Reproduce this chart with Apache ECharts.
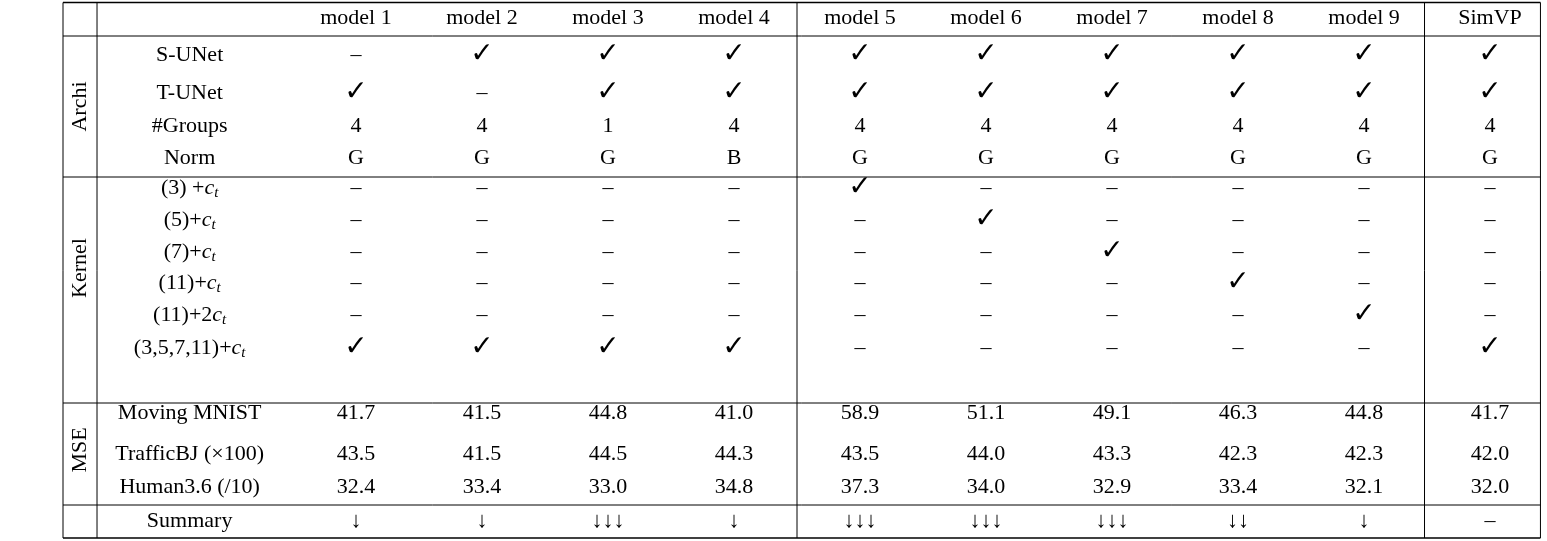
<!DOCTYPE html><html><head><meta charset="utf-8"><script src="https://cdn.jsdelivr.net/npm/echarts@6/dist/echarts.min.js"></script>
<style>html,body{margin:0;background:#fff}#c{width:1547px;height:541px}</style></head><body><div id="c"></div><script>
const models=['model 1','model 2','model 3','model 4','model 5','model 6','model 7','model 8','model 9','SimVP'];
const rowLabels=['S-UNet','T-UNet','#Groups','Norm','(3) +{i|c}{s|t}','(5)+{i|c}{s|t}','(7)+{i|c}{s|t}','(11)+{i|c}{s|t}','(11)+2{i|c}{s|t}','(3,5,7,11)+{i|c}{s|t}','Moving MNIST','TrafficBJ (×100)','Human3.6 (/10)','Summary'];
const C='✓',D='–';
const cells=[
[D,C,C,C,C,C,C,C,C,C],
[C,D,C,C,C,C,C,C,C,C],
['4','4','1','4','4','4','4','4','4','4'],
['G','G','G','B','G','G','G','G','G','G'],
[D,D,D,D,C,D,D,D,D,D],
[D,D,D,D,D,C,D,D,D,D],
[D,D,D,D,D,D,C,D,D,D],
[D,D,D,D,D,D,D,C,D,D],
[D,D,D,D,D,D,D,D,C,D],
[C,C,C,C,D,D,D,D,D,C],
['41.7','41.5','44.8','41.0','58.9','51.1','49.1','46.3','44.8','41.7'],
['43.5','41.5','44.5','44.3','43.5','44.0','43.3','42.3','42.3','42.0'],
['32.4','33.4','33.0','34.8','37.3','34.0','32.9','33.4','32.1','32.0'],
['↓','↓','↓↓↓','↓','↓↓↓','↓↓↓','↓↓↓','↓↓','↓','–']];
const groups=[['Archi',0,3],['Kernel',4,9],['MSE',10,12]];
// layout (axis units)
const headerY=1.8, rowY=[5.5,9.3,12.6,15.8,18.8,22.0,25.2,28.3,31.5,34.8,41.3,45.4,48.7,52.1];
const hLines=[[0.25,1.6],[3.6,1],[17.7,1],[40.3,1],[50.5,1],[53.8,1.6]];
const vLines=[-1.325,-1.055,4.5,9.48,10.4];
const labelX=-0.32, groupX=-1.19;
const F='"Liberation Serif","DejaVu Serif",serif';
const texts=[];
models.forEach((m,i)=>texts.push([i+1,headerY,m,0]));
rowLabels.forEach((r,j)=>{texts.push([labelX,rowY[j],r,0]);cells[j].forEach((v,i)=>texts.push([i+1,rowY[j],v,0]));});
groups.forEach(g=>texts.push([groupX,(rowY[g[1]]+rowY[g[2]])/2,g[0],1]));
const ch=echarts.init(document.getElementById('c'));
ch.setOption({animation:false,
grid:{left:0,right:0,top:0,bottom:0},
xAxis:{type:'value',min:-1.825,max:10.452,show:false},
yAxis:{type:'value',min:0,max:54.1,inverse:true,show:false},
series:[
{type:'custom',data:hLines,renderItem:(p,api)=>{const a=api.coord([-1.325,api.value(0)]),b=api.coord([10.4,api.value(0)]);return{type:'line',shape:{x1:a[0],y1:a[1],x2:b[0],y2:b[1]},style:{stroke:'#000',lineWidth:api.value(1)}};}},
{type:'custom',data:vLines.map(v=>[v]),renderItem:(p,api)=>{const a=api.coord([api.value(0),0.25]),b=api.coord([api.value(0),53.8]);return{type:'line',shape:{x1:a[0],y1:a[1],x2:b[0],y2:b[1]},style:{stroke:'#000',lineWidth:1}};}},
{type:'custom',data:texts,renderItem:(p,api)=>{const d=texts[p.dataIndex];const pt=api.coord([d[0],d[1]]);const chk=d[2]==='✓';
return{type:'text',x:pt[0],y:pt[1],rotation:d[3]?Math.PI/2:0,style:{text:d[2],x:0,y:0,align:'center',verticalAlign:'middle',fill:'#000',
font:(chk?'bold 28px "DejaVu Sans",sans-serif':'22px '+F),
rich:{i:{fontFamily:F,fontSize:22,fontStyle:'italic'},s:{fontFamily:F,fontSize:15,fontStyle:'italic',padding:[10,0,0,0]}}}};}}
]});
</script></body></html>
